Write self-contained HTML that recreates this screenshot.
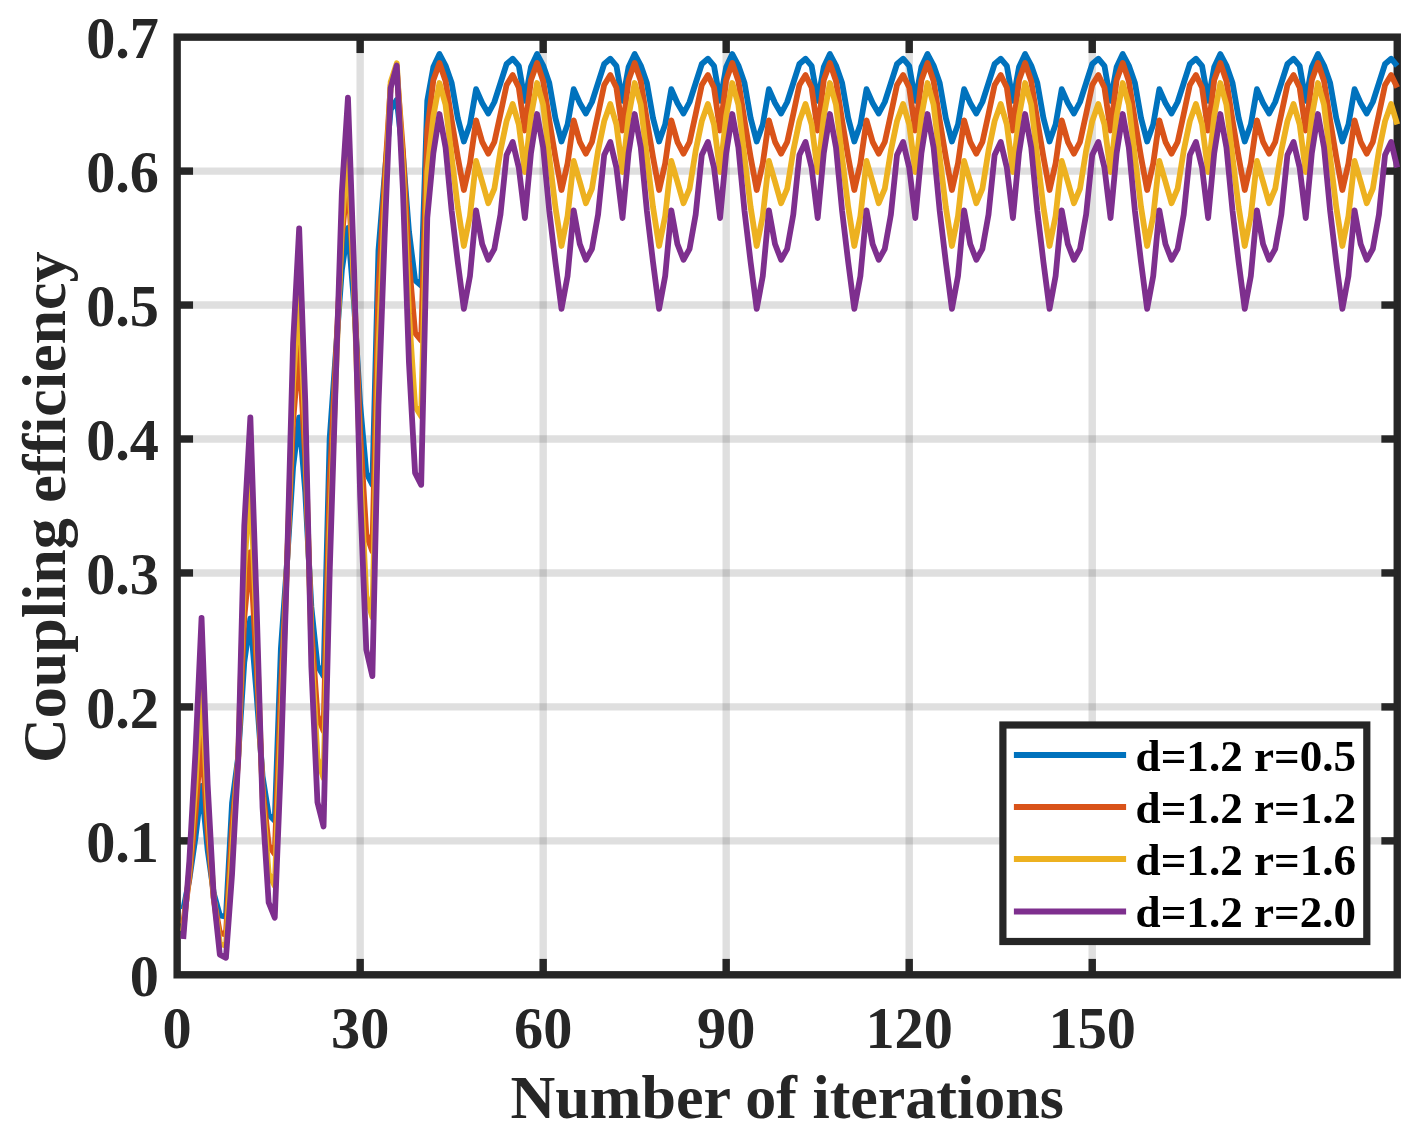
<!DOCTYPE html>
<html lang="en"><head><meta charset="utf-8"><title>Coupling efficiency vs number of iterations</title>
<style>html,body{margin:0;padding:0;background:#fff}body{width:1422px;height:1142px;overflow:hidden}svg{display:block}text{font-family:"Liberation Serif",serif;font-weight:bold}</style></head><body>
<svg width="1422" height="1142" viewBox="0 0 1422 1142">
<rect x="0" y="0" width="1422" height="1142" fill="#ffffff"/>
<g stroke="rgba(38,38,38,0.15)" stroke-width="7.40" fill="none">
<line x1="360.16" y1="37.15" x2="360.16" y2="974.80"/>
<line x1="543.18" y1="37.15" x2="543.18" y2="974.80"/>
<line x1="726.19" y1="37.15" x2="726.19" y2="974.80"/>
<line x1="909.21" y1="37.15" x2="909.21" y2="974.80"/>
<line x1="1092.23" y1="37.15" x2="1092.23" y2="974.80"/>
<line x1="177.15" y1="840.85" x2="1397.25" y2="840.85"/>
<line x1="177.15" y1="706.90" x2="1397.25" y2="706.90"/>
<line x1="177.15" y1="572.95" x2="1397.25" y2="572.95"/>
<line x1="177.15" y1="439.00" x2="1397.25" y2="439.00"/>
<line x1="177.15" y1="305.05" x2="1397.25" y2="305.05"/>
<line x1="177.15" y1="171.10" x2="1397.25" y2="171.10"/>
</g>
<g stroke="#262626" stroke-width="7.40" fill="none" stroke-linecap="butt">
<rect x="177.15" y="37.15" width="1220.10" height="937.65"/>
<line x1="360.16" y1="974.80" x2="360.16" y2="958.90"/>
<line x1="360.16" y1="37.15" x2="360.16" y2="53.05"/>
<line x1="543.18" y1="974.80" x2="543.18" y2="958.90"/>
<line x1="543.18" y1="37.15" x2="543.18" y2="53.05"/>
<line x1="726.19" y1="974.80" x2="726.19" y2="958.90"/>
<line x1="726.19" y1="37.15" x2="726.19" y2="53.05"/>
<line x1="909.21" y1="974.80" x2="909.21" y2="958.90"/>
<line x1="909.21" y1="37.15" x2="909.21" y2="53.05"/>
<line x1="1092.23" y1="974.80" x2="1092.23" y2="958.90"/>
<line x1="1092.23" y1="37.15" x2="1092.23" y2="53.05"/>
<line x1="177.15" y1="840.85" x2="193.05" y2="840.85"/>
<line x1="1397.25" y1="840.85" x2="1381.35" y2="840.85"/>
<line x1="177.15" y1="706.90" x2="193.05" y2="706.90"/>
<line x1="1397.25" y1="706.90" x2="1381.35" y2="706.90"/>
<line x1="177.15" y1="572.95" x2="193.05" y2="572.95"/>
<line x1="1397.25" y1="572.95" x2="1381.35" y2="572.95"/>
<line x1="177.15" y1="439.00" x2="193.05" y2="439.00"/>
<line x1="1397.25" y1="439.00" x2="1381.35" y2="439.00"/>
<line x1="177.15" y1="305.05" x2="193.05" y2="305.05"/>
<line x1="1397.25" y1="305.05" x2="1381.35" y2="305.05"/>
<line x1="177.15" y1="171.10" x2="193.05" y2="171.10"/>
<line x1="1397.25" y1="171.10" x2="1381.35" y2="171.10"/>
</g>
<g fill="none" stroke-width="5.80" stroke-linejoin="round" stroke-linecap="butt">
<path stroke="#0072BD" d="M183.25 909.45 L189.35 879.41 L195.45 837.67 L201.55 785.93 L207.65 850.04 L213.75 893.32 L219.85 915.48 L225.95 916.67 L232.05 803.20 L238.16 757.14 L244.26 662.31 L250.36 618.36 L256.46 692.65 L262.56 776.11 L268.66 814.58 L274.76 820.76 L280.86 649.28 L286.96 563.56 L293.06 467.42 L299.16 417.43 L305.26 492.32 L311.36 607.00 L317.46 665.61 L323.56 676.09 L329.66 438.80 L335.76 353.26 L341.86 270.09 L347.96 228.03 L354.06 303.95 L360.16 404.35 L366.27 472.78 L372.37 484.54 L378.47 250.38 L384.57 176.24 L390.67 109.80 L396.77 99.84 L402.87 154.29 L408.97 231.40 L415.07 280.21 L421.17 285.49 L427.27 100.80 L433.37 67.00 L439.47 54.00 L445.57 65.50 L451.67 83.00 L457.77 118.00 L463.87 141.50 L469.97 124.40 L476.07 89.20 L482.17 103.00 L488.28 113.50 L494.38 102.00 L500.48 83.00 L506.58 64.00 L512.68 58.70 L518.78 65.80 L524.88 100.80 L530.98 67.00 L537.08 54.00 L543.18 65.50 L549.28 83.00 L555.38 118.00 L561.48 141.50 L567.58 124.40 L573.68 89.20 L579.78 103.00 L585.88 113.50 L591.98 102.00 L598.08 83.00 L604.19 64.00 L610.29 58.70 L616.39 65.80 L622.49 100.80 L628.59 67.00 L634.69 54.00 L640.79 65.50 L646.89 83.00 L652.99 118.00 L659.09 141.50 L665.19 124.40 L671.29 89.20 L677.39 103.00 L683.49 113.50 L689.59 102.00 L695.69 83.00 L701.79 64.00 L707.89 58.70 L713.99 65.80 L720.09 100.80 L726.19 67.00 L732.30 54.00 L738.40 65.50 L744.50 83.00 L750.60 118.00 L756.70 141.50 L762.80 124.40 L768.90 89.20 L775.00 103.00 L781.10 113.50 L787.20 102.00 L793.30 83.00 L799.40 64.00 L805.50 58.70 L811.60 65.80 L817.70 100.80 L823.80 67.00 L829.90 54.00 L836.00 65.50 L842.10 83.00 L848.20 118.00 L854.31 141.50 L860.41 124.40 L866.51 89.20 L872.61 103.00 L878.71 113.50 L884.81 102.00 L890.91 83.00 L897.01 64.00 L903.11 58.70 L909.21 65.80 L915.31 100.80 L921.41 67.00 L927.51 54.00 L933.61 65.50 L939.71 83.00 L945.81 118.00 L951.91 141.50 L958.01 124.40 L964.11 89.20 L970.22 103.00 L976.32 113.50 L982.42 102.00 L988.52 83.00 L994.62 64.00 L1000.72 58.70 L1006.82 65.80 L1012.92 100.80 L1019.02 67.00 L1025.12 54.00 L1031.22 65.50 L1037.32 83.00 L1043.42 118.00 L1049.52 141.50 L1055.62 124.40 L1061.72 89.20 L1067.82 103.00 L1073.92 113.50 L1080.02 102.00 L1086.12 83.00 L1092.23 64.00 L1098.33 58.70 L1104.43 65.80 L1110.53 100.80 L1116.63 67.00 L1122.73 54.00 L1128.83 65.50 L1134.93 83.00 L1141.03 118.00 L1147.13 141.50 L1153.23 124.40 L1159.33 89.20 L1165.43 103.00 L1171.53 113.50 L1177.63 102.00 L1183.73 83.00 L1189.83 64.00 L1195.93 58.70 L1202.03 65.80 L1208.13 100.80 L1214.23 67.00 L1220.34 54.00 L1226.44 65.50 L1232.54 83.00 L1238.64 118.00 L1244.74 141.50 L1250.84 124.40 L1256.94 89.20 L1263.04 103.00 L1269.14 113.50 L1275.24 102.00 L1281.34 83.00 L1287.44 64.00 L1293.54 58.70 L1299.64 65.80 L1305.74 100.80 L1311.84 67.00 L1317.94 54.00 L1324.04 65.50 L1330.14 83.00 L1336.24 118.00 L1342.35 141.50 L1348.45 124.40 L1354.55 89.20 L1360.65 103.00 L1366.75 113.50 L1372.85 102.00 L1378.95 83.00 L1385.05 64.00 L1391.15 58.70 L1397.25 65.80"/>
<path stroke="#D95319" d="M183.25 923.56 L189.35 877.55 L195.45 813.61 L201.55 734.36 L207.65 832.55 L213.75 898.86 L219.85 932.80 L225.95 934.62 L232.05 828.04 L238.16 759.30 L244.26 617.78 L250.36 552.19 L256.46 663.06 L262.56 787.61 L268.66 845.03 L274.76 854.25 L280.86 691.28 L286.96 564.28 L293.06 421.83 L299.16 347.78 L305.26 458.73 L311.36 628.64 L317.46 715.48 L323.56 731.01 L329.66 484.18 L335.76 358.74 L341.86 236.79 L347.96 175.12 L354.06 286.44 L360.16 433.65 L366.27 534.00 L372.37 551.25 L378.47 289.50 L384.57 181.71 L390.67 85.12 L396.77 70.64 L402.87 149.80 L408.97 261.90 L415.07 332.87 L421.17 340.55 L427.27 130.50 L433.37 80.00 L439.47 63.00 L445.57 81.00 L451.67 120.50 L457.77 157.00 L463.87 190.00 L469.97 163.30 L476.07 120.40 L482.17 141.80 L488.28 153.60 L494.38 142.00 L500.48 114.00 L506.58 85.00 L512.68 75.00 L518.78 87.50 L524.88 130.50 L530.98 80.00 L537.08 63.00 L543.18 81.00 L549.28 120.50 L555.38 157.00 L561.48 190.00 L567.58 163.30 L573.68 120.40 L579.78 141.80 L585.88 153.60 L591.98 142.00 L598.08 114.00 L604.19 85.00 L610.29 75.00 L616.39 87.50 L622.49 130.50 L628.59 80.00 L634.69 63.00 L640.79 81.00 L646.89 120.50 L652.99 157.00 L659.09 190.00 L665.19 163.30 L671.29 120.40 L677.39 141.80 L683.49 153.60 L689.59 142.00 L695.69 114.00 L701.79 85.00 L707.89 75.00 L713.99 87.50 L720.09 130.50 L726.19 80.00 L732.30 63.00 L738.40 81.00 L744.50 120.50 L750.60 157.00 L756.70 190.00 L762.80 163.30 L768.90 120.40 L775.00 141.80 L781.10 153.60 L787.20 142.00 L793.30 114.00 L799.40 85.00 L805.50 75.00 L811.60 87.50 L817.70 130.50 L823.80 80.00 L829.90 63.00 L836.00 81.00 L842.10 120.50 L848.20 157.00 L854.31 190.00 L860.41 163.30 L866.51 120.40 L872.61 141.80 L878.71 153.60 L884.81 142.00 L890.91 114.00 L897.01 85.00 L903.11 75.00 L909.21 87.50 L915.31 130.50 L921.41 80.00 L927.51 63.00 L933.61 81.00 L939.71 120.50 L945.81 157.00 L951.91 190.00 L958.01 163.30 L964.11 120.40 L970.22 141.80 L976.32 153.60 L982.42 142.00 L988.52 114.00 L994.62 85.00 L1000.72 75.00 L1006.82 87.50 L1012.92 130.50 L1019.02 80.00 L1025.12 63.00 L1031.22 81.00 L1037.32 120.50 L1043.42 157.00 L1049.52 190.00 L1055.62 163.30 L1061.72 120.40 L1067.82 141.80 L1073.92 153.60 L1080.02 142.00 L1086.12 114.00 L1092.23 85.00 L1098.33 75.00 L1104.43 87.50 L1110.53 130.50 L1116.63 80.00 L1122.73 63.00 L1128.83 81.00 L1134.93 120.50 L1141.03 157.00 L1147.13 190.00 L1153.23 163.30 L1159.33 120.40 L1165.43 141.80 L1171.53 153.60 L1177.63 142.00 L1183.73 114.00 L1189.83 85.00 L1195.93 75.00 L1202.03 87.50 L1208.13 130.50 L1214.23 80.00 L1220.34 63.00 L1226.44 81.00 L1232.54 120.50 L1238.64 157.00 L1244.74 190.00 L1250.84 163.30 L1256.94 120.40 L1263.04 141.80 L1269.14 153.60 L1275.24 142.00 L1281.34 114.00 L1287.44 85.00 L1293.54 75.00 L1299.64 87.50 L1305.74 130.50 L1311.84 80.00 L1317.94 63.00 L1324.04 81.00 L1330.14 120.50 L1336.24 157.00 L1342.35 190.00 L1348.45 163.30 L1354.55 120.40 L1360.65 141.80 L1366.75 153.60 L1372.85 142.00 L1378.95 114.00 L1385.05 85.00 L1391.15 75.00 L1397.25 87.50"/>
<path stroke="#EDB120" d="M183.25 931.13 L189.35 869.79 L195.45 784.55 L201.55 678.90 L207.65 809.81 L213.75 898.20 L219.85 943.45 L225.95 945.87 L232.05 850.71 L238.16 758.49 L244.26 568.64 L250.36 480.66 L256.46 629.39 L262.56 796.46 L268.66 873.49 L274.76 885.86 L280.86 727.47 L286.96 565.84 L293.06 384.56 L299.16 290.32 L305.26 431.52 L311.36 647.75 L317.46 758.26 L323.56 778.03 L329.66 533.60 L335.76 377.34 L341.86 225.42 L347.96 148.60 L354.06 287.28 L360.16 470.66 L366.27 595.67 L372.37 617.15 L378.47 349.47 L384.57 208.51 L390.67 82.21 L396.77 63.27 L402.87 166.79 L408.97 313.39 L415.07 406.19 L421.17 416.23 L427.27 172.00 L433.37 116.00 L439.47 83.00 L445.57 104.80 L451.67 157.00 L457.77 207.00 L463.87 246.00 L469.97 216.00 L476.07 161.00 L482.17 181.80 L488.28 203.20 L494.38 188.60 L500.48 150.60 L506.58 121.10 L512.68 104.00 L518.78 124.40 L524.88 172.00 L530.98 116.00 L537.08 83.00 L543.18 104.80 L549.28 157.00 L555.38 207.00 L561.48 246.00 L567.58 216.00 L573.68 161.00 L579.78 181.80 L585.88 203.20 L591.98 188.60 L598.08 150.60 L604.19 121.10 L610.29 104.00 L616.39 124.40 L622.49 172.00 L628.59 116.00 L634.69 83.00 L640.79 104.80 L646.89 157.00 L652.99 207.00 L659.09 246.00 L665.19 216.00 L671.29 161.00 L677.39 181.80 L683.49 203.20 L689.59 188.60 L695.69 150.60 L701.79 121.10 L707.89 104.00 L713.99 124.40 L720.09 172.00 L726.19 116.00 L732.30 83.00 L738.40 104.80 L744.50 157.00 L750.60 207.00 L756.70 246.00 L762.80 216.00 L768.90 161.00 L775.00 181.80 L781.10 203.20 L787.20 188.60 L793.30 150.60 L799.40 121.10 L805.50 104.00 L811.60 124.40 L817.70 172.00 L823.80 116.00 L829.90 83.00 L836.00 104.80 L842.10 157.00 L848.20 207.00 L854.31 246.00 L860.41 216.00 L866.51 161.00 L872.61 181.80 L878.71 203.20 L884.81 188.60 L890.91 150.60 L897.01 121.10 L903.11 104.00 L909.21 124.40 L915.31 172.00 L921.41 116.00 L927.51 83.00 L933.61 104.80 L939.71 157.00 L945.81 207.00 L951.91 246.00 L958.01 216.00 L964.11 161.00 L970.22 181.80 L976.32 203.20 L982.42 188.60 L988.52 150.60 L994.62 121.10 L1000.72 104.00 L1006.82 124.40 L1012.92 172.00 L1019.02 116.00 L1025.12 83.00 L1031.22 104.80 L1037.32 157.00 L1043.42 207.00 L1049.52 246.00 L1055.62 216.00 L1061.72 161.00 L1067.82 181.80 L1073.92 203.20 L1080.02 188.60 L1086.12 150.60 L1092.23 121.10 L1098.33 104.00 L1104.43 124.40 L1110.53 172.00 L1116.63 116.00 L1122.73 83.00 L1128.83 104.80 L1134.93 157.00 L1141.03 207.00 L1147.13 246.00 L1153.23 216.00 L1159.33 161.00 L1165.43 181.80 L1171.53 203.20 L1177.63 188.60 L1183.73 150.60 L1189.83 121.10 L1195.93 104.00 L1202.03 124.40 L1208.13 172.00 L1214.23 116.00 L1220.34 83.00 L1226.44 104.80 L1232.54 157.00 L1238.64 207.00 L1244.74 246.00 L1250.84 216.00 L1256.94 161.00 L1263.04 181.80 L1269.14 203.20 L1275.24 188.60 L1281.34 150.60 L1287.44 121.10 L1293.54 104.00 L1299.64 124.40 L1305.74 172.00 L1311.84 116.00 L1317.94 83.00 L1324.04 104.80 L1330.14 157.00 L1336.24 207.00 L1342.35 246.00 L1348.45 216.00 L1354.55 161.00 L1360.65 181.80 L1366.75 203.20 L1372.85 188.60 L1378.95 150.60 L1385.05 121.10 L1391.15 104.00 L1397.25 124.40"/>
<path stroke="#7E2F8E" d="M183.25 939.04 L189.35 860.94 L195.45 752.44 L201.55 617.96 L207.65 784.59 L213.75 897.11 L219.85 954.71 L225.95 957.79 L232.05 874.34 L238.16 760.48 L244.26 526.07 L250.36 417.43 L256.46 601.08 L262.56 807.36 L268.66 902.47 L274.76 917.74 L280.86 764.50 L286.96 566.25 L293.06 343.90 L299.16 228.30 L305.26 401.49 L311.36 666.71 L317.46 802.27 L323.56 826.52 L329.66 572.95 L335.76 380.06 L341.86 192.53 L347.96 97.70 L354.06 268.88 L360.16 495.26 L366.27 649.57 L372.37 676.09 L378.47 405.51 L384.57 238.07 L390.67 88.05 L396.77 65.55 L402.87 188.51 L408.97 362.65 L415.07 472.89 L421.17 484.81 L427.27 218.00 L433.37 153.00 L439.47 114.00 L445.57 147.50 L451.67 211.00 L457.77 262.00 L463.87 308.90 L469.97 276.00 L476.07 210.30 L482.17 244.00 L488.28 259.80 L494.38 248.80 L500.48 214.50 L506.58 155.00 L512.68 142.00 L518.78 167.50 L524.88 218.00 L530.98 153.00 L537.08 114.00 L543.18 147.50 L549.28 211.00 L555.38 262.00 L561.48 308.90 L567.58 276.00 L573.68 210.30 L579.78 244.00 L585.88 259.80 L591.98 248.80 L598.08 214.50 L604.19 155.00 L610.29 142.00 L616.39 167.50 L622.49 218.00 L628.59 153.00 L634.69 114.00 L640.79 147.50 L646.89 211.00 L652.99 262.00 L659.09 308.90 L665.19 276.00 L671.29 210.30 L677.39 244.00 L683.49 259.80 L689.59 248.80 L695.69 214.50 L701.79 155.00 L707.89 142.00 L713.99 167.50 L720.09 218.00 L726.19 153.00 L732.30 114.00 L738.40 147.50 L744.50 211.00 L750.60 262.00 L756.70 308.90 L762.80 276.00 L768.90 210.30 L775.00 244.00 L781.10 259.80 L787.20 248.80 L793.30 214.50 L799.40 155.00 L805.50 142.00 L811.60 167.50 L817.70 218.00 L823.80 153.00 L829.90 114.00 L836.00 147.50 L842.10 211.00 L848.20 262.00 L854.31 308.90 L860.41 276.00 L866.51 210.30 L872.61 244.00 L878.71 259.80 L884.81 248.80 L890.91 214.50 L897.01 155.00 L903.11 142.00 L909.21 167.50 L915.31 218.00 L921.41 153.00 L927.51 114.00 L933.61 147.50 L939.71 211.00 L945.81 262.00 L951.91 308.90 L958.01 276.00 L964.11 210.30 L970.22 244.00 L976.32 259.80 L982.42 248.80 L988.52 214.50 L994.62 155.00 L1000.72 142.00 L1006.82 167.50 L1012.92 218.00 L1019.02 153.00 L1025.12 114.00 L1031.22 147.50 L1037.32 211.00 L1043.42 262.00 L1049.52 308.90 L1055.62 276.00 L1061.72 210.30 L1067.82 244.00 L1073.92 259.80 L1080.02 248.80 L1086.12 214.50 L1092.23 155.00 L1098.33 142.00 L1104.43 167.50 L1110.53 218.00 L1116.63 153.00 L1122.73 114.00 L1128.83 147.50 L1134.93 211.00 L1141.03 262.00 L1147.13 308.90 L1153.23 276.00 L1159.33 210.30 L1165.43 244.00 L1171.53 259.80 L1177.63 248.80 L1183.73 214.50 L1189.83 155.00 L1195.93 142.00 L1202.03 167.50 L1208.13 218.00 L1214.23 153.00 L1220.34 114.00 L1226.44 147.50 L1232.54 211.00 L1238.64 262.00 L1244.74 308.90 L1250.84 276.00 L1256.94 210.30 L1263.04 244.00 L1269.14 259.80 L1275.24 248.80 L1281.34 214.50 L1287.44 155.00 L1293.54 142.00 L1299.64 167.50 L1305.74 218.00 L1311.84 153.00 L1317.94 114.00 L1324.04 147.50 L1330.14 211.00 L1336.24 262.00 L1342.35 308.90 L1348.45 276.00 L1354.55 210.30 L1360.65 244.00 L1366.75 259.80 L1372.85 248.80 L1378.95 214.50 L1385.05 155.00 L1391.15 142.00 L1397.25 167.50"/>
</g>
<g fill="#262626" font-size="58.3">
<text x="177.15" y="1048.0" text-anchor="middle">0</text>
<text x="360.16" y="1048.0" text-anchor="middle">30</text>
<text x="543.18" y="1048.0" text-anchor="middle">60</text>
<text x="726.19" y="1048.0" text-anchor="middle">90</text>
<text x="909.21" y="1048.0" text-anchor="middle">120</text>
<text x="1092.23" y="1048.0" text-anchor="middle">150</text>
<text x="159.0" y="995.70" text-anchor="end">0</text>
<text x="159.0" y="861.75" text-anchor="end">0.1</text>
<text x="159.0" y="727.80" text-anchor="end">0.2</text>
<text x="159.0" y="593.85" text-anchor="end">0.3</text>
<text x="159.0" y="459.90" text-anchor="end">0.4</text>
<text x="159.0" y="325.95" text-anchor="end">0.5</text>
<text x="159.0" y="192.00" text-anchor="end">0.6</text>
<text x="159.0" y="58.05" text-anchor="end">0.7</text>
</g>
<g fill="#262626" font-size="62.0">
<text x="787.20" y="1118.2" text-anchor="middle">Number of iterations</text>
<text transform="translate(65.2 507.17) rotate(-90)" text-anchor="middle">Coupling efficiency</text>
</g>
<rect x="1002.90" y="725.00" width="363.90" height="216.50" fill="#ffffff" stroke="#262626" stroke-width="7.2"/>
<g stroke-width="5.80" fill="none">
<line x1="1013.9" y1="755.00" x2="1126.1" y2="755.00" stroke="#0072BD"/>
<line x1="1013.9" y1="807.00" x2="1126.1" y2="807.00" stroke="#D95319"/>
<line x1="1013.9" y1="859.00" x2="1126.1" y2="859.00" stroke="#EDB120"/>
<line x1="1013.9" y1="911.50" x2="1126.1" y2="911.50" stroke="#7E2F8E"/>
</g>
<g fill="#000000" font-size="44.0">
<text transform="translate(1135.6 770.90) scale(1.025 1)">d=1.2 r=0.5</text>
<text transform="translate(1135.6 822.90) scale(1.025 1)">d=1.2 r=1.2</text>
<text transform="translate(1135.6 874.90) scale(1.025 1)">d=1.2 r=1.6</text>
<text transform="translate(1135.6 927.40) scale(1.025 1)">d=1.2 r=2.0</text>
</g>
</svg></body></html>
